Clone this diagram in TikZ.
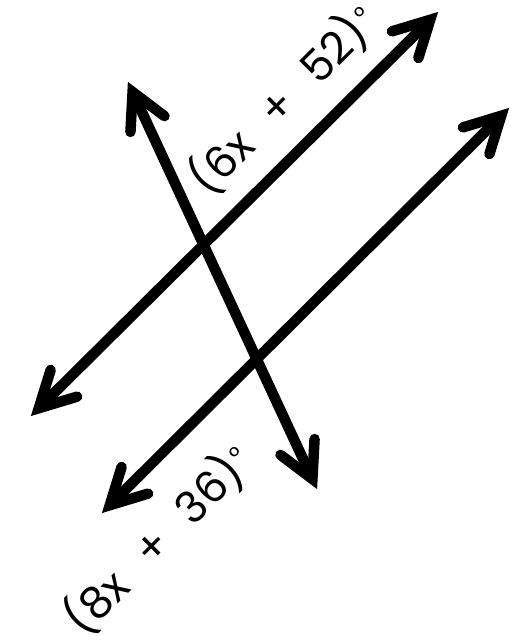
\documentclass[tikz,border=0pt]{standalone}
\usepackage{fontspec}
\setmainfont{Poppins}
\usetikzlibrary{calc}
\tikzset{
  shaft/.style={line width=10.5pt, black},
  head/.style={line width=10.5pt, black, line cap=round, line join=miter, miter limit=10},
  lbl/.style={font=\fontsize{44}{44}\selectfont, inner sep=0pt, rotate=45}
}
\newcommand{\dblhead}[2]{%
  \draw[shaft] (#1) -- (#2);
  \draw[head] ($(#1)!40pt!28:(#2)$) -- (#1) -- ($(#1)!40pt!-28:(#2)$);
  \draw[head] ($(#2)!40pt!28:(#1)$) -- (#2) -- ($(#2)!40pt!-28:(#1)$);
}
\newcommand{\degsym}{\hspace{3pt}\raisebox{11pt}{\fontsize{26}{26}\selectfont °}}
\begin{document}
\begin{tikzpicture}[x=1pt,y=-1pt]
\useasboundingbox (0,0) rectangle (525,636);
% parallel line 1
\coordinate (A1) at (430.2,19.8);
\coordinate (A2) at (38.8,408.2);
% parallel line 2
\coordinate (B1) at (501.2,115.8);
\coordinate (B2) at (109.8,505.2);
% transversal
\coordinate (C1) at (132.6,92);
\coordinate (C2) at (312.4,479);
\dblhead{A1}{A2}
\dblhead{B1}{B2}
\dblhead{C1}{C2}
\node[lbl] (t1) at (283,100) {(6x \hspace{17pt}+ \hspace{17pt}52)\degsym};
\node[lbl] (t2) at (158,540) {(8x \hspace{17pt}+ \hspace{17pt}36)\degsym};
\end{tikzpicture}
\end{document}
